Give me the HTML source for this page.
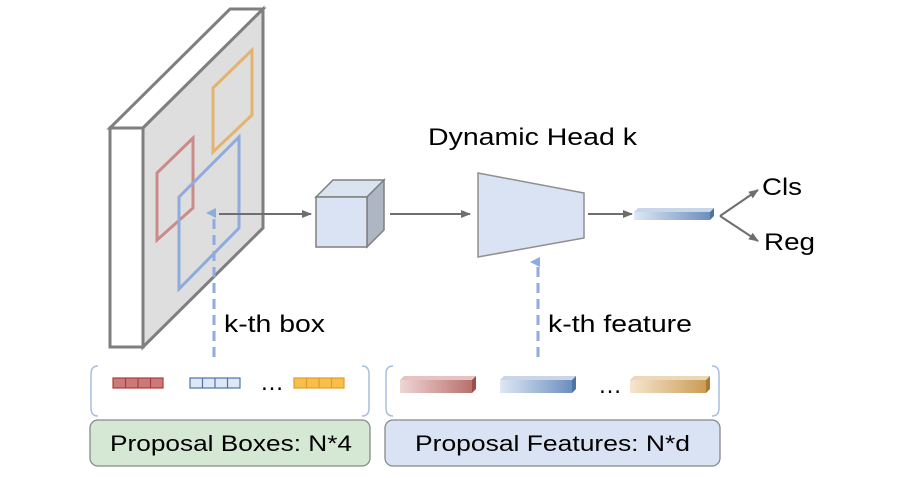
<!DOCTYPE html>
<html><head><meta charset="utf-8"><style>
body{margin:0;background:#fff}
svg{display:block}
text{font-family:"Liberation Sans",sans-serif}
</style></head><body>
<svg width="918" height="478" viewBox="0 0 918 478" xmlns="http://www.w3.org/2000/svg">
<defs>
<marker id="ag" markerWidth="10" markerHeight="10" refX="9" refY="5" orient="auto" markerUnits="userSpaceOnUse"><path d="M0,1 L10,5 L0,9z" fill="#6e6e6e"/></marker>
<marker id="ab" markerWidth="10" markerHeight="10" refX="5" refY="8" orient="auto-start-reverse" markerUnits="userSpaceOnUse"><path d="M0,10 L5,0 L10,10z" fill="#8faadc"/></marker>
<linearGradient id="gr" x1="0" x2="1"><stop offset="0" stop-color="#efd6d6"/><stop offset="1" stop-color="#b8716c"/></linearGradient>
<linearGradient id="gb" x1="0" x2="1"><stop offset="0" stop-color="#dfe8f4"/><stop offset="1" stop-color="#6c8fbf"/></linearGradient>
<linearGradient id="go" x1="0" x2="1"><stop offset="0" stop-color="#f5e6cf"/><stop offset="1" stop-color="#cc9c55"/></linearGradient>
</defs>
<polygon points="110,128 230,9 263,9 143,128" fill="#fff" stroke="#7f7f7f" stroke-width="3"/>
<rect x="110" y="128" width="33" height="219" fill="#fff" stroke="#7f7f7f" stroke-width="3"/>
<polygon points="143,128 263,9 263,228 143,347" fill="#dedede" stroke="#7f7f7f" stroke-width="3"/>
<polygon points="213,88 252,50 252,115 213,152" fill="none" stroke="#e2b46e" stroke-width="3"/>
<polygon points="157,173 193,138 193,208 157,240" fill="none" stroke="#cc8a88" stroke-width="3"/>
<polygon points="179,197 239,137 239,228 179,289" fill="none" stroke="#8faadc" stroke-width="3"/>
<line x1="214" y1="357" x2="214" y2="213" stroke="#8faadc" stroke-width="3" stroke-dasharray="10,6" marker-end="url(#ab)"/>
<line x1="219" y1="214" x2="311" y2="214" stroke="#6e6e6e" stroke-width="2" marker-end="url(#ag)"/>
<polygon points="316,197 333,180 384,180 367,197" fill="#dae3f0" stroke="#7f7f7f" stroke-width="1.5"/>
<polygon points="367,197 384,180 384,230 367,247" fill="#aeb5c3" stroke="#7f7f7f" stroke-width="1.5"/>
<rect x="316" y="197" width="51" height="50" fill="#dae3f3" stroke="#7f7f7f" stroke-width="1.5"/>
<line x1="390" y1="214" x2="470" y2="214" stroke="#6e6e6e" stroke-width="2" marker-end="url(#ag)"/>
<text x="428" y="145" font-size="24" textLength="209" lengthAdjust="spacingAndGlyphs">Dynamic Head k</text>
<polygon points="478,173 584,193 584,238 478,257" fill="#dae3f3" stroke="#8f8f8f" stroke-width="1.5"/>
<line x1="588" y1="214" x2="632" y2="214" stroke="#6e6e6e" stroke-width="2" marker-end="url(#ag)"/>
<polygon points="634,212 638,208 714,208 710,212" fill="#c9d6ea"/>
<rect x="634" y="212" width="76" height="8" fill="url(#gb)"/>
<polygon points="710,212 714,208 714,216 710,220" fill="#4f73a3"/>
<line x1="720" y1="216" x2="758" y2="190" stroke="#6e6e6e" stroke-width="2" marker-end="url(#ag)"/>
<line x1="720" y1="216" x2="758" y2="241" stroke="#6e6e6e" stroke-width="2" marker-end="url(#ag)"/>
<text x="762" y="195" font-size="24" textLength="40" lengthAdjust="spacingAndGlyphs">Cls</text>
<text x="764" y="250" font-size="24" textLength="51" lengthAdjust="spacingAndGlyphs">Reg</text>
<line x1="538" y1="357" x2="538" y2="262" stroke="#8faadc" stroke-width="3" stroke-dasharray="10,6" marker-end="url(#ab)"/>
<text x="224" y="332" font-size="24" textLength="101" lengthAdjust="spacingAndGlyphs">k-th box</text>
<text x="548" y="332" font-size="24" textLength="144" lengthAdjust="spacingAndGlyphs">k-th feature</text>
<g fill="none" stroke="#a9bde0" stroke-width="1.5">
<path d="M98,366 Q91,366 91,374 L91,408 Q91,416 98,416"/>
<path d="M362,366 Q369,366 369,374 L369,408 Q369,416 362,416"/>
<path d="M393,366 Q386,366 386,374 L386,408 Q386,416 393,416"/>
<path d="M712,366 Q719,366 719,374 L719,408 Q719,416 712,416"/>
</g>
<g stroke-width="1.2">
<rect x="113" y="378" width="50" height="10" fill="#c97a7a" stroke="#b03a3a"/>
<path d="M125.5,378v10M138,378v10M150.5,378v10" stroke="#b03a3a"/>
<rect x="190" y="378" width="50" height="10" fill="#dde7f5" stroke="#4f73a3"/>
<path d="M202.5,378v10M215,378v10M227.5,378v10" stroke="#4f73a3"/>
<rect x="294" y="378" width="50" height="10" fill="#f6c04a" stroke="#e69a2a"/>
<path d="M306.5,378v10M319,378v10M331.5,378v10" stroke="#e69a2a"/>
</g>
<text x="272" y="390" font-size="24" text-anchor="middle">…</text>
<text x="610" y="393" font-size="24" text-anchor="middle">…</text>
<polygon points="400,380 404,376 476,376 472,380" fill="#e6c3c1"/>
<rect x="400" y="380" width="72" height="13" fill="url(#gr)"/>
<polygon points="472,380 476,376 476,389 472,393" fill="#9a4f4a"/>
<polygon points="500,380 504,376 576,376 572,380" fill="#c9d6ea"/>
<rect x="500" y="380" width="72" height="13" fill="url(#gb)"/>
<polygon points="572,380 576,376 576,389 572,393" fill="#4f73a3"/>
<polygon points="630,380 634,376 710,376 706,380" fill="#ecd8b8"/>
<rect x="630" y="380" width="76" height="13" fill="url(#go)"/>
<polygon points="706,380 710,376 710,389 706,393" fill="#a87a35"/>
<rect x="90" y="420" width="280" height="46" rx="8" fill="#d5e8d4" stroke="#888" stroke-width="1.3"/>
<rect x="385" y="420" width="335" height="46" rx="8" fill="#dae3f3" stroke="#888" stroke-width="1.3"/>
<text x="110" y="451" font-size="22" textLength="242" lengthAdjust="spacingAndGlyphs">Proposal Boxes: N*4</text>
<text x="415" y="451" font-size="22" textLength="275" lengthAdjust="spacingAndGlyphs">Proposal Features: N*d</text>
</svg>
</body></html>
